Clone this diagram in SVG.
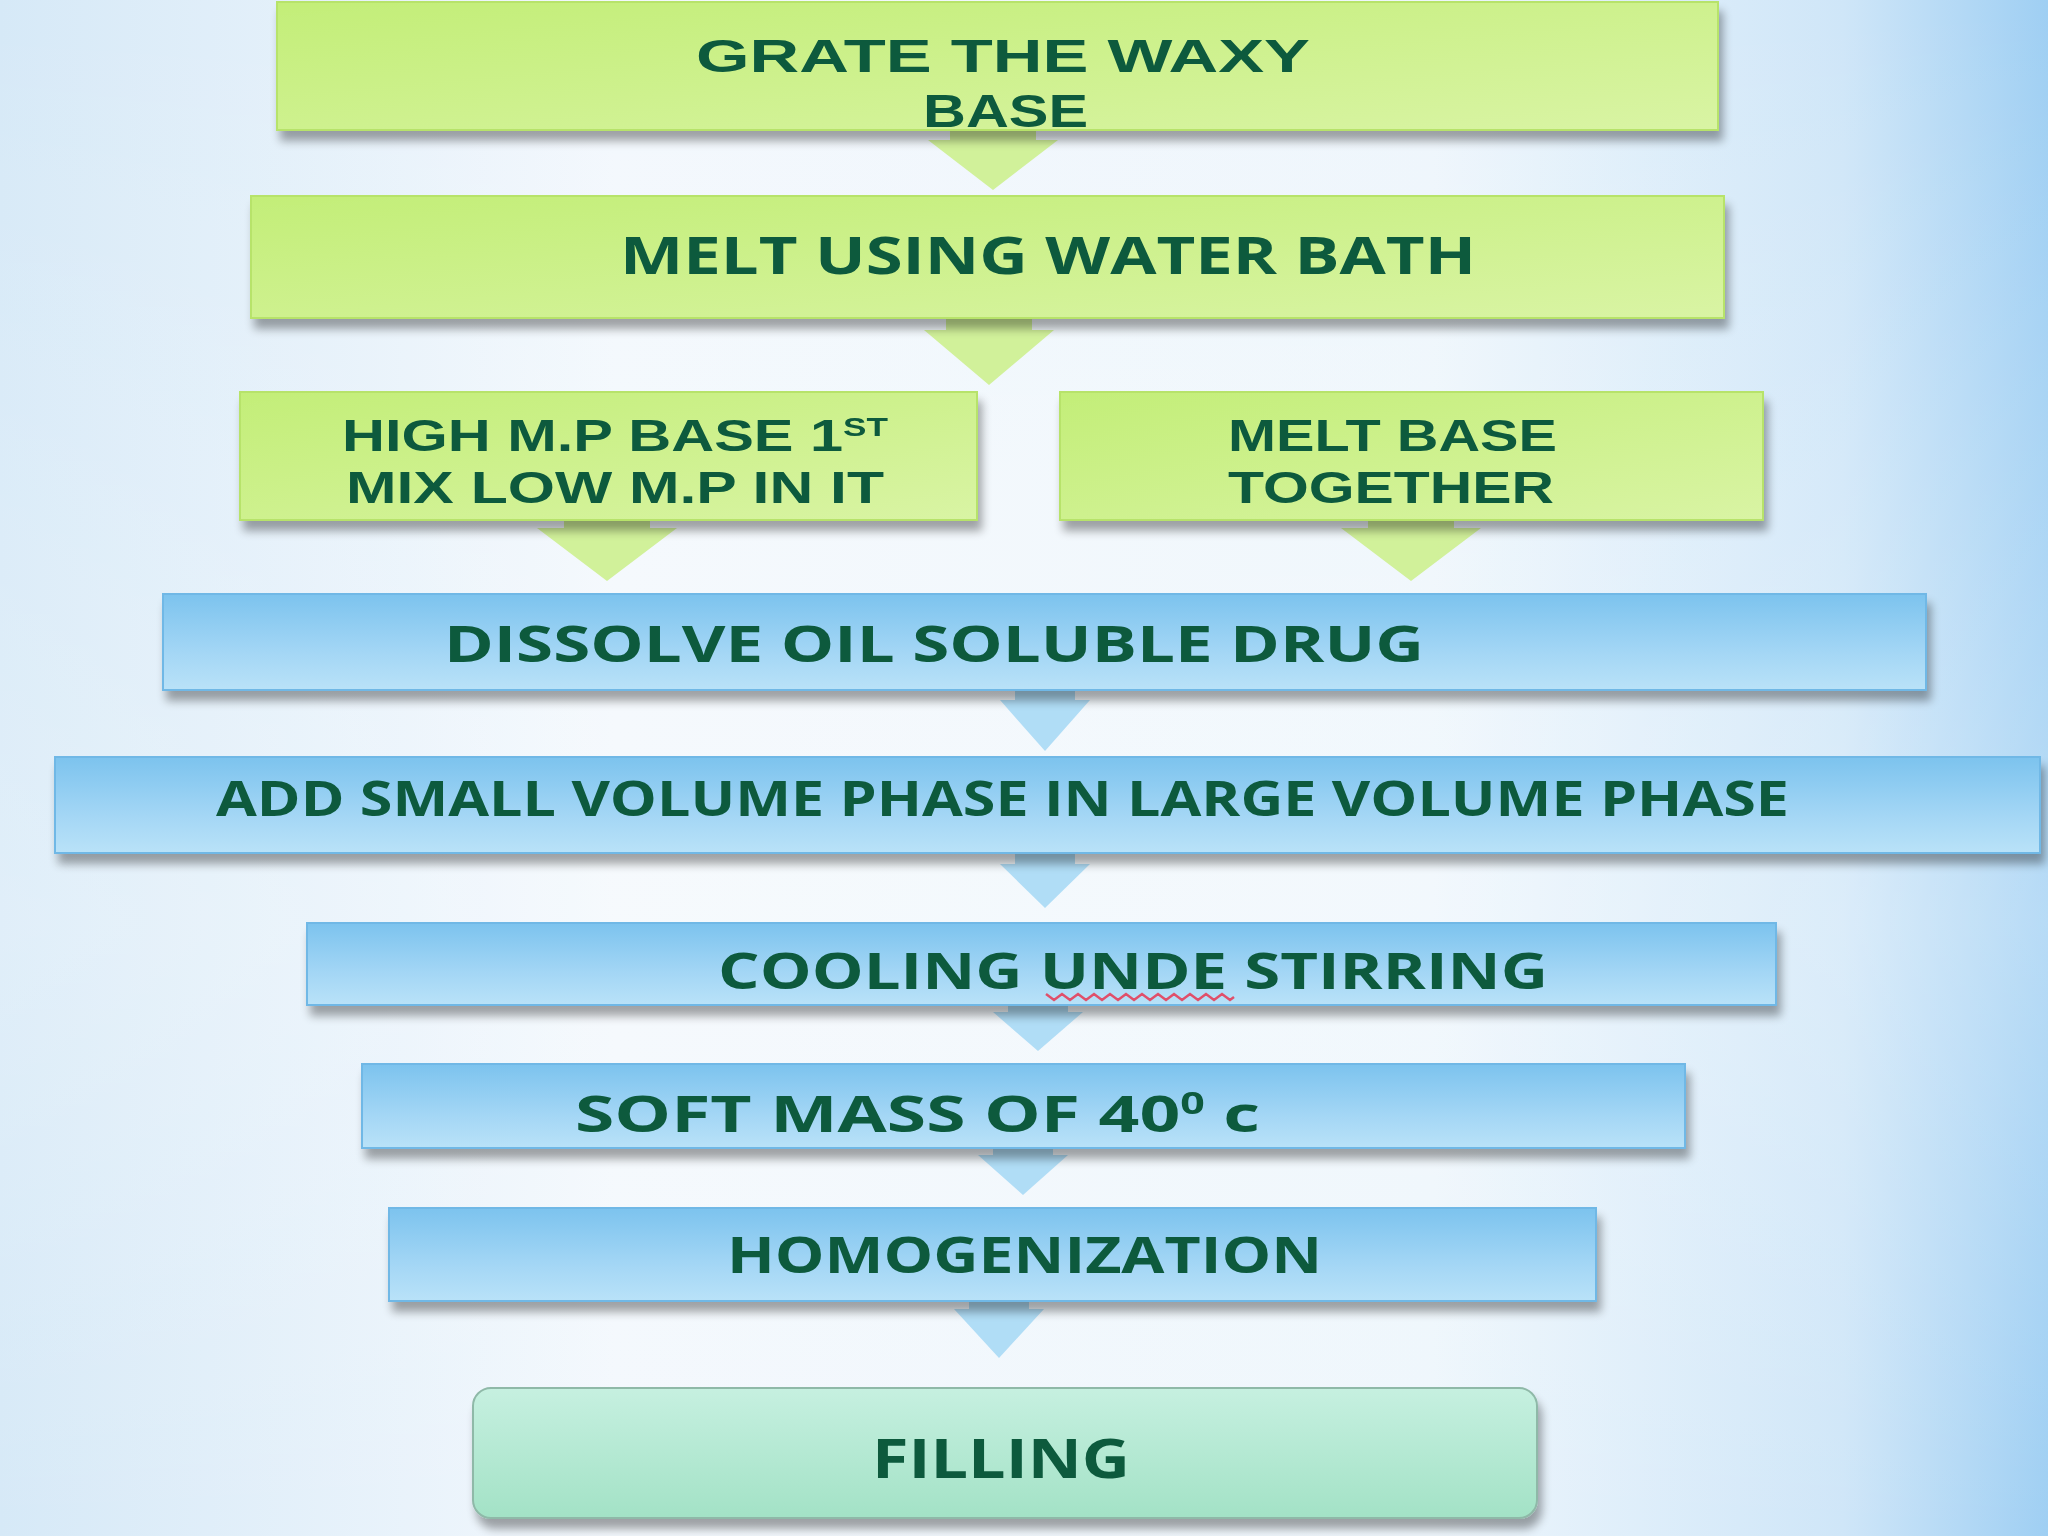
<svg xmlns="http://www.w3.org/2000/svg" width="2048" height="1536" viewBox="0 0 2048 1536">
<defs>
<linearGradient id="bg" x1="0" y1="0" x2="1" y2="0">
<stop offset="0" stop-color="#d6e9f7"/>
<stop offset="0.3" stop-color="#f3f8fd"/>
<stop offset="0.7" stop-color="#eef6fc"/>
<stop offset="0.9" stop-color="#cfe6f8"/>
<stop offset="1" stop-color="#9fcff3"/>
</linearGradient>
<linearGradient id="bgv" x1="0" y1="0" x2="0" y2="1">
<stop offset="0" stop-color="#ffffff" stop-opacity="0"/>
<stop offset="0.6" stop-color="#ffffff" stop-opacity="0.25"/>
<stop offset="1" stop-color="#ffffff" stop-opacity="0"/>
</linearGradient>
<linearGradient id="gr" x1="0" y1="0" x2="1" y2="1">
<stop offset="0" stop-color="#c3ee78"/>
<stop offset="1" stop-color="#d9f4a4"/>
</linearGradient>
<linearGradient id="bl" x1="0" y1="0" x2="0" y2="1">
<stop offset="0" stop-color="#7cc3ee"/>
<stop offset="0.6" stop-color="#a3d6f5"/>
<stop offset="1" stop-color="#b9e2f8"/>
</linearGradient>
<linearGradient id="mint" x1="0" y1="0" x2="0" y2="1">
<stop offset="0" stop-color="#c6f0e0"/>
<stop offset="1" stop-color="#a3e2c6"/>
</linearGradient>
<filter id="sh" x="-5%" y="-20%" width="110%" height="150%">
<feGaussianBlur in="SourceAlpha" stdDeviation="5"/>
<feOffset dx="4" dy="10" result="b"/>
<feComponentTransfer><feFuncA type="linear" slope="0.35"/></feComponentTransfer>
<feMerge><feMergeNode/><feMergeNode in="SourceGraphic"/></feMerge>
</filter>
</defs>
<style>
.g{fill:url(#gr);stroke:#b7e36a;stroke-width:2}
.b{fill:url(#bl);stroke:#6fb8e6;stroke-width:2}
.ga{fill:#cdf08f;opacity:0.9}
.ba{fill:#a9d9f5;opacity:0.9}
.t{font-family:"Open Sans","Liberation Sans",sans-serif;font-weight:bold;fill:#0d5a3e;text-anchor:start}
.t2{font-family:"Liberation Sans",Arial,sans-serif;font-weight:bold;fill:#0d5a3e;text-anchor:start}
</style>
<rect width="2048" height="1536" fill="url(#bg)"/>
<rect width="2048" height="1536" fill="url(#bgv)"/>

<g id="connectors">
<polygon class="ga" points="950,120 1036,120 1036,140 1058,140 993,190 928,140 950,140"/>
<polygon class="ga" points="946,310 1032,310 1032,330 1054,330 989,385 924,330 946,330"/>
<polygon class="ga" points="564,512 650,512 650,528 677,528 607,581 537,528 564,528"/>
<polygon class="ga" points="1368,512 1454,512 1454,528 1481,528 1411,581 1341,528 1368,528"/>
<polygon class="ba" points="1015,684 1075,684 1075,700 1090,700 1045,751 1000,700 1015,700"/>
<polygon class="ba" points="1015,848 1075,848 1075,864 1090,864 1045,908 1000,864 1015,864"/>
<polygon class="ba" points="1008,1000 1068,1000 1068,1012 1083,1012 1038,1051 993,1012 1008,1012"/>
<polygon class="ba" points="993,1143 1053,1143 1053,1155 1068,1155 1023,1195 978,1155 993,1155"/>
<polygon class="ba" points="969,1297 1029,1297 1029,1309 1044,1309 999,1358 954,1309 969,1309"/>
</g>

<g id="n1" filter="url(#sh)">
<rect class="g" x="277" y="2" width="1441" height="128"/>
<text class="t2" x="696" y="72" font-size="47" textLength="614" lengthAdjust="spacingAndGlyphs">GRATE   THE  WAXY</text>
<text class="t2" x="923" y="127" font-size="47" textLength="165" lengthAdjust="spacingAndGlyphs">BASE</text>
</g>
<g id="n2" filter="url(#sh)">
<rect class="g" x="251" y="196" width="1473" height="122"/>
<text class="t" x="620" y="274" font-size="52" textLength="856" lengthAdjust="spacingAndGlyphs">MELT USING  WATER  BATH</text>
</g>
<g id="n3a" filter="url(#sh)">
<rect class="g" x="240" y="392" width="737" height="128"/>
<text class="t2" x="342" y="451" font-size="44" textLength="546" lengthAdjust="spacingAndGlyphs">HIGH M.P BASE 1<tspan font-size="26" dy="-15">ST</tspan></text>
<text class="t2" x="346" y="503" font-size="44" textLength="538" lengthAdjust="spacingAndGlyphs">MIX LOW M.P IN IT</text>
</g>
<g id="n3b" filter="url(#sh)">
<rect class="g" x="1060" y="392" width="703" height="128"/>
<text class="t2" x="1228" y="451" font-size="44" textLength="329" lengthAdjust="spacingAndGlyphs">MELT BASE</text>
<text class="t2" x="1228" y="503" font-size="44" textLength="326" lengthAdjust="spacingAndGlyphs">TOGETHER</text>
</g>
<g id="n4" filter="url(#sh)">
<rect class="b" x="163" y="594" width="1763" height="96"/>
<text class="t" x="444" y="662" font-size="50" textLength="980" lengthAdjust="spacingAndGlyphs">DISSOLVE  OIL  SOLUBLE  DRUG</text>
</g>
<g id="n5" filter="url(#sh)">
<rect class="b" x="55" y="757" width="1985" height="96"/>
<text class="t" x="216" y="816" font-size="48" textLength="1573" lengthAdjust="spacingAndGlyphs">ADD SMALL VOLUME PHASE IN LARGE VOLUME PHASE</text>
</g>
<g id="n6" filter="url(#sh)">
<rect class="b" x="307" y="923" width="1469" height="82"/>
<text class="t" x="718" y="989" font-size="50" textLength="830" lengthAdjust="spacingAndGlyphs">COOLING  UNDE  STIRRING</text>
<path d="M1046,994 l8,6 l8,-6 l8,6 l8,-6 l8,6 l8,-6 l8,6 l8,-6 l8,6 l8,-6 l8,6 l8,-6 l8,6 l8,-6 l8,6 l8,-6 l8,6 l8,-6 l8,6 l8,-6 l8,6 l8,-6 l8,6 l4,-3" fill="none" stroke="#e0506a" stroke-width="2.5"/>
</g>
<g id="n7" filter="url(#sh)">
<rect class="b" x="362" y="1064" width="1323" height="84"/>
<text class="t" x="575" y="1132" font-size="50" textLength="685" lengthAdjust="spacingAndGlyphs">SOFT  MASS OF  40<tspan font-size="30" dy="-18">0</tspan><tspan dy="18"> c</tspan></text>
</g>
<g id="n8" filter="url(#sh)">
<rect class="b" x="389" y="1208" width="1207" height="93"/>
<text class="t" x="727" y="1273" font-size="50" textLength="595" lengthAdjust="spacingAndGlyphs">HOMOGENIZATION</text>
</g>
<g id="n9" filter="url(#sh)">
<rect x="473" y="1388" width="1064" height="130" rx="18" fill="url(#mint)" stroke="#8fb9a8" stroke-width="2"/>
<text class="t" x="872" y="1478" font-size="54" textLength="258" lengthAdjust="spacingAndGlyphs">FILLING</text>
</g>
</svg>
